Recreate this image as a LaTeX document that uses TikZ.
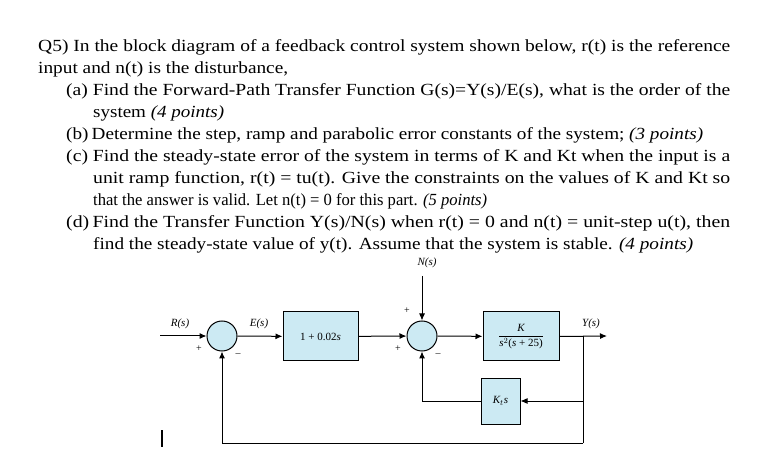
\documentclass[tikz,border=0pt]{standalone}
\usepackage{fontspec}
\setmainfont{Liberation Serif}
\usepackage{graphicx}
\definecolor{blkfill}{RGB}{204,234,243}
\tikzset{
  qline/.style={anchor=base west,inner sep=0pt,font=\fontsize{17}{20}\selectfont},
  sumj/.style={circle,draw,line width=1pt,fill=blkfill,minimum size=30pt,inner sep=0pt},
  blk/.style={rectangle,draw,line width=1pt,fill=blkfill,inner sep=0pt,font=\fontsize{11}{13}\selectfont},
  lbl/.style={inner sep=0pt,font=\fontsize{11}{13}\selectfont\itshape},
  sgn/.style={inner sep=0pt,font=\fontsize{10}{11}\selectfont},
  sig/.style={line width=1pt,-{Latex[length=7pt,width=6pt]}},
  wire/.style={line width=1pt}
}
\usetikzlibrary{arrows.meta}
\newcommand{\ql}[2]{\resizebox{#1pt}{\height}{#2}}
\begin{document}
\begin{tikzpicture}[x=1pt,y=-1pt]
\useasboundingbox (0,0) rectangle (774,470);
% text
\node[qline] (t1) at (38,52) {\ql{692}{Q5) In the block diagram of a feedback control system shown below, r(t) is the reference}};
\node[qline] (t2) at (38,74) {\ql{250}{input and n(t) is the disturbance,}};
\node[qline] (t3) at (66,96) {\ql{664}{(a) Find the Forward-Path Transfer Function G(s)=Y(s)/E(s), what is the order of the}};
\node[qline] (t4) at (93,118) {\ql{131}{system \textit{(4 points)}}};
\node[qline] (t5) at (66,140) {\ql{637}{(b)\,Determine the step, ramp and parabolic error constants of the system; \textit{(3 points)}}};
\node[qline] (t6) at (66,162) {\ql{664}{(c) Find the steady-state error of the system in terms of K and Kt when the input is a}};
\node[qline] (t7) at (93,184) {\ql{637}{unit ramp function, r(t) = tu(t). Give the constraints on the values of K and Kt so}};
\node[qline] (t8) at (93,206) {\ql{394}{that the answer is valid. Let n(t) = 0 for this part. \textit{(5 points)}}};
\node[qline] (t9) at (66,228) {\ql{664}{(d)\,Find the Transfer Function Y(s)/N(s) when r(t) = 0 and n(t) = unit-step u(t), then}};
\node[qline] (t10) at (93,250) {\ql{600}{find the steady-state value of y(t). Assume that the system is stable. \textit{(4 points)}}};
% diagram
\node[sumj] (s1) at (222,336) {};
\node[blk,minimum width=75pt,minimum height=49pt] (b1) at (320.5,336.5) {1 + 0.02\textit{s}};
\node[sumj] (s2) at (422,336) {};
\node[blk,minimum width=76pt,minimum height=49pt] (b2) at (521,336.5) {$\displaystyle\frac{\mbox{\itshape K}}{\mbox{\itshape s}^{2}\mbox{(\itshape s\upshape\ + 25)}}$};
\node[blk,minimum width=39pt,minimum height=46pt] (b3) at (500.5,401) {\textit{K$_t$s}};
\coordinate (in) at (160,336);
\coordinate (br) at (583,336);
\coordinate (out) at (607,336);
\coordinate (nin) at (422,276);
\coordinate (bot) at (583,443);
\draw[sig] (in) -- (s1);
\draw[sig] (s1) -- (b1);
\draw[sig] (b1) -- (s2);
\draw[sig] (nin) -- (s2);
\draw[sig] (s2) -- (b2);
\draw[sig] (b2.east) -- (out);
\draw[sig] (br) |- (b3.east);
\draw[sig] (b3.west) -| (s2.south);
\draw[wire] (br) -- (bot);
\draw[sig] (bot) -| (s1.south);
% labels
\node[lbl] (lr) at (180,324) {R(s)};
\node[lbl] (le) at (259,324) {E(s)};
\node[lbl] (ly) at (591,324) {Y(s)};
\node[lbl] (ln) at (427,263) {N(s)};
\node[sgn] (p1) at (199,349) {+};
\node[sgn] (m1) at (238,355) {\textendash};
\node[sgn] (p2) at (407,311) {+};
\node[sgn] (p3) at (398,349) {+};
\node[sgn] (m2) at (438,355) {\textendash};
\draw[line width=1.3pt] (162,430) -- (162,447);
\end{tikzpicture}
\end{document}
